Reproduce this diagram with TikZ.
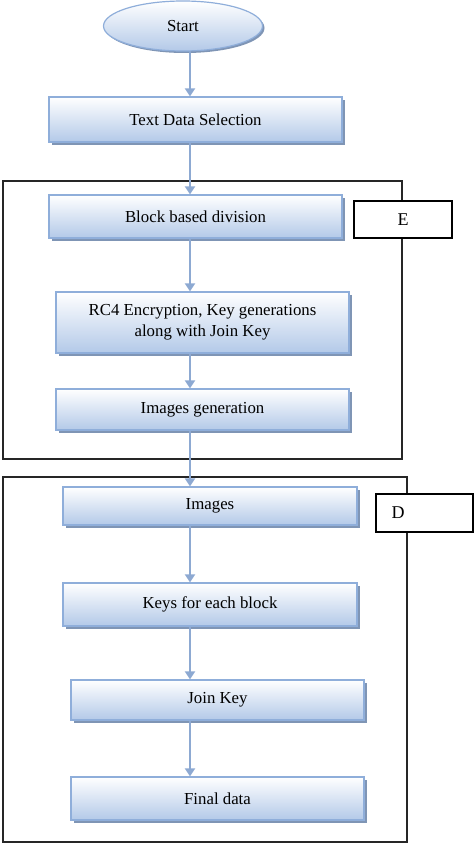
\documentclass[tikz,border=0pt]{standalone}
\usepackage{fontspec}
\setmainfont{Liberation Serif}
\usetikzlibrary{shadows,arrows.meta,shapes.geometric}
\definecolor{boxline}{HTML}{8FAEDA}
\definecolor{boxbot}{HTML}{B3C9E8}
\definecolor{shadowc}{HTML}{7F95B5}
\definecolor{arrowc}{HTML}{8DA9D2}
\tikzset{
  stepbox/.style={rectangle, draw=boxline, line width=1.2pt, top color=white, bottom color=boxbot,
    drop shadow={shadow xshift=2.5pt, shadow yshift=-2.5pt, fill=shadowc, opacity=1},
    font=\fontsize{16.8}{21}\selectfont, align=center, inner sep=0pt},
  startshape/.style={ellipse, draw=boxline, line width=1.2pt, top color=white, bottom color=boxbot,
    drop shadow={shadow xshift=2pt, shadow yshift=-2pt, fill=shadowc, opacity=1},
    font=\fontsize{16.8}{21}\selectfont, inner sep=0pt},
  frame/.style={draw=black!85, line width=1.6pt},
  tag/.style={rectangle, draw=black, line width=1.2pt, fill=white, font=\fontsize{18}{21}\selectfont, inner sep=0pt},
  arr/.style={draw=arrowc, line width=1.8pt, -{Triangle[width=10pt,length=8pt]}}
}
\begin{document}
\begin{tikzpicture}[x=1pt,y=-1pt]
\useasboundingbox (0,0) rectangle (474,843);
% frames
\draw[frame] (3,181) rectangle (402,459);
\draw[frame] (3,477) rectangle (407,842);
% tags
\node[tag, minimum width=98pt, minimum height=37pt] (E) at (403,219.5) {E};
\node[tag, minimum width=97pt, minimum height=38pt, text width=80pt, align=left] (D) at (424.5,513) {\hspace*{7pt}D};
% nodes
\node[startshape, minimum width=159pt, minimum height=50pt] (start) at (183,26) {Start};
\node[stepbox, minimum width=293pt, minimum height=45pt] (tds) at (195.5,119.5) {Text Data Selection};
\node[stepbox, minimum width=293pt, minimum height=43pt] (bbd) at (195.5,216.5) {Block based division};
\node[stepbox, minimum width=293pt, minimum height=61pt] (rc4) at (202.5,322.5) {RC4 Encryption, Key generations\\along with Join Key};
\node[stepbox, minimum width=293pt, minimum height=41pt] (ig) at (202.5,409.5) {Images generation};
\node[stepbox, minimum width=294pt, minimum height=38pt] (img) at (210,506) {Images};
\node[stepbox, minimum width=294pt, minimum height=43pt] (kfb) at (210,604.5) {Keys for each block};
\node[stepbox, minimum width=293pt, minimum height=40pt] (jk) at (217.5,700) {Join Key};
\node[stepbox, minimum width=293pt, minimum height=43pt] (fd) at (217.5,798.5) {Final data};
% arrow axis
\coordinate (ax) at (190,0);
\draw[arr] (start.south -| ax) ++(0,-1) -- (tds.north -| ax);
\draw[arr] (tds.south -| ax) -- (bbd.north -| ax);
\draw[arr] (bbd.south -| ax) -- (rc4.north -| ax);
\draw[arr] (rc4.south -| ax) -- (ig.north -| ax);
\draw[arr] (ig.south -| ax) -- (img.north -| ax);
\draw[arr] (img.south -| ax) -- (kfb.north -| ax);
\draw[arr] (kfb.south -| ax) -- (jk.north -| ax);
\draw[arr] (jk.south -| ax) -- (fd.north -| ax);
\end{tikzpicture}
\end{document}
